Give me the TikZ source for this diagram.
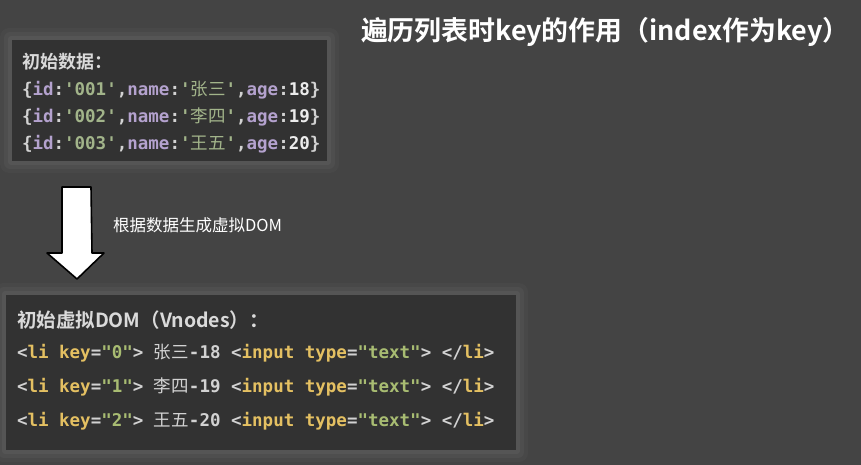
\documentclass[tikz,border=0pt]{standalone}
\usepackage{fontspec}
\setmainfont{Noto Sans CJK SC}[BoldFont={Noto Sans CJK SC Bold}]
\newfontfamily\cjk{Noto Sans CJK SC}
\newfontfamily\codefont{DejaVu Sans Mono}
\definecolor{bgc}{HTML}{444444}
\definecolor{haloa}{HTML}{484848}
\definecolor{halob}{HTML}{4E4E4E}
\definecolor{haloc}{HTML}{555555}
\definecolor{boxc}{HTML}{323232}
\definecolor{plainc}{HTML}{D2D2D2}
\definecolor{headc}{HTML}{DADADA}
\definecolor{purplec}{HTML}{B4A2CE}
\definecolor{greenc}{HTML}{A2B48A}
\definecolor{yellowc}{HTML}{E4C062}
\definecolor{green2c}{HTML}{A8BC72}
\definecolor{whitec}{HTML}{ECECEC}
\newcommand\sq{\char"27\relax}
\newcommand\dq{\char"22\relax}
\newcommand\cL[1]{\textcolor{plainc}{#1}}
\newcommand\cV[1]{\textcolor{purplec}{#1}}
\newcommand\cG[1]{\textcolor{greenc}{#1}}
\newcommand\cH[1]{\textcolor{green2c}{#1}}
\newcommand\cY[1]{\textcolor{yellowc}{#1}}
\newcommand\cW[1]{\textcolor{whitec}{#1}}
\begin{document}
\begin{tikzpicture}[x=1pt,y=-1pt,
  panel/.style={fill=boxc, draw=none, anchor=north west, inner sep=0pt},
  txt/.style={anchor=base west, inner sep=0pt, outer sep=0pt},
  codeline/.style={txt, font=\codefont\bfseries\fontsize{17.5}{20}\selectfont},
  headline/.style={txt, text=headc, font=\bfseries\fontsize{18}{22}\selectfont},
  blockarrow/.style={fill=white, draw=black, line width=1.6pt, line join=round}]
\useasboundingbox (0,0) rectangle (861,465);
\fill[bgc] (0,0) rectangle (861,465);
% halos
\fill[haloa, rounded corners=9pt] (0,28) rectangle (339,173);
\fill[halob, rounded corners=6pt] (4,32) rectangle (335,169);
\fill[haloc, rounded corners=3pt] (8,36) rectangle (331,165);
\fill[haloa, rounded corners=9pt] (-6,283) rectangle (528,462);
\fill[halob, rounded corners=6pt] (-2,287) rectangle (524,458);
\fill[haloc, rounded corners=3pt] (2,291) rectangle (520,454);
% panels
\node[panel, minimum width=315pt, minimum height=121pt] (top) at (12,40) {};
\node[panel, minimum width=510pt, minimum height=155pt] (bot) at (6,295) {};
% title
\node[txt, text=white, font=\bfseries\fontsize{26.9}{30}\selectfont] (title) at (361,41) {遍历列表时key的作用（index作为key）};
% top box text
\node[headline] (h1) at (22,69) {初始数据：};
\node[codeline] (d1) at (22,96) {\cL{\{}\cV{id}\cL{:}\cG{\sq 001\sq}\cL{,}\cV{name}\cL{:}\cG{\sq{\cjk\mdseries 张三}\sq}\cL{,}\cV{age}\cL{:}\cW{18}\cL{\}}};
\node[codeline] (d2) at (22,123) {\cL{\{}\cV{id}\cL{:}\cG{\sq 002\sq}\cL{,}\cV{name}\cL{:}\cG{\sq{\cjk\mdseries 李四}\sq}\cL{,}\cV{age}\cL{:}\cW{19}\cL{\}}};
\node[codeline] (d3) at (22,150) {\cL{\{}\cV{id}\cL{:}\cG{\sq 003\sq}\cL{,}\cV{name}\cL{:}\cG{\sq{\cjk\mdseries 王五}\sq}\cL{,}\cV{age}\cL{:}\cW{20}\cL{\}}};
% arrow
\coordinate (a1) at (62,187);
\coordinate (a2) at (91,187);
\coordinate (a3) at (92,253);
\coordinate (a4) at (104,253);
\coordinate (tip) at (77,279);
\coordinate (a6) at (47,253);
\coordinate (a7) at (62,253);
\draw[blockarrow] (a1) -- (a2) -- (a3) -- (a4) -- (tip) -- (a6) -- (a7) -- cycle;
\node[txt, text=white, font=\fontsize{16.5}{20}\selectfont] (lbl) at (113,231) {根据数据生成虚拟DOM};
% bottom box text
\node[headline, font=\bfseries\fontsize{19.5}{22}\selectfont] (h2) at (17,327) {初始虚拟DOM（Vnodes）：};
\node[codeline] (v1) at (17,358) {\cL{<}\cY{li key}\cL{=}\cH{\dq 0\dq}\cL{>} {\cjk\mdseries\color{plainc}张三}\cL{-18 <}\cY{input type}\cL{=}\cH{\dq text\dq}\cL{> </}\cY{li}\cL{>}};
\node[codeline] (v2) at (17,392) {\cL{<}\cY{li key}\cL{=}\cH{\dq 1\dq}\cL{>} {\cjk\mdseries\color{plainc}李四}\cL{-19 <}\cY{input type}\cL{=}\cH{\dq text\dq}\cL{> </}\cY{li}\cL{>}};
\node[codeline] (v3) at (17,426) {\cL{<}\cY{li key}\cL{=}\cH{\dq 2\dq}\cL{>} {\cjk\mdseries\color{plainc}王五}\cL{-20 <}\cY{input type}\cL{=}\cH{\dq text\dq}\cL{> </}\cY{li}\cL{>}};
\end{tikzpicture}
\end{document}
